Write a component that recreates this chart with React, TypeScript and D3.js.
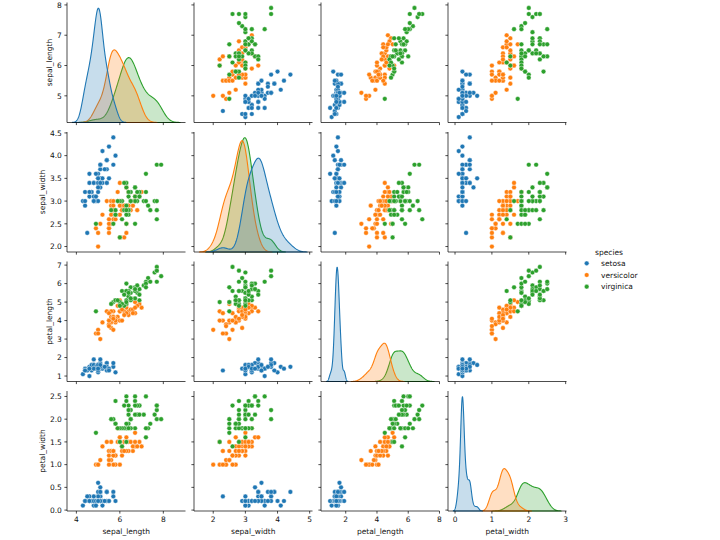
import React, { useEffect, useRef } from 'react';
import * as d3 from 'd3';

// Iris measurements, one array per species and variable
const setosaSepalLength = [5.1, 4.9, 4.7, 4.6, 5.0, 5.4, 4.6, 5.0, 4.4, 4.9, 5.4, 4.8, 4.8, 4.3, 5.8, 5.7, 5.4, 5.1, 5.7, 5.1, 5.4, 5.1, 4.6, 5.1, 4.8, 5.0, 5.0, 5.2, 5.2, 4.7, 4.8, 5.4, 5.2, 5.5, 4.9, 5.0, 5.5, 4.9, 4.4, 5.1, 5.0, 4.5, 4.4, 5.0, 5.1, 4.8, 5.1, 4.6, 5.3, 5.0];
const setosaSepalWidth = [3.5, 3.0, 3.2, 3.1, 3.6, 3.9, 3.4, 3.4, 2.9, 3.1, 3.7, 3.4, 3.0, 3.0, 4.0, 4.4, 3.9, 3.5, 3.8, 3.8, 3.4, 3.7, 3.6, 3.3, 3.4, 3.0, 3.4, 3.5, 3.4, 3.2, 3.1, 3.4, 4.1, 4.2, 3.1, 3.2, 3.5, 3.6, 3.0, 3.4, 3.5, 2.3, 3.2, 3.5, 3.8, 3.0, 3.8, 3.2, 3.7, 3.3];
const setosaPetalLength = [1.4, 1.4, 1.3, 1.5, 1.4, 1.7, 1.4, 1.5, 1.4, 1.5, 1.5, 1.6, 1.4, 1.1, 1.2, 1.5, 1.3, 1.4, 1.7, 1.5, 1.7, 1.5, 1.0, 1.7, 1.9, 1.6, 1.6, 1.5, 1.4, 1.6, 1.6, 1.5, 1.5, 1.4, 1.5, 1.2, 1.3, 1.4, 1.3, 1.5, 1.3, 1.3, 1.3, 1.6, 1.9, 1.4, 1.6, 1.4, 1.5, 1.4];
const setosaPetalWidth = [0.2, 0.2, 0.2, 0.2, 0.2, 0.4, 0.3, 0.2, 0.2, 0.1, 0.2, 0.2, 0.1, 0.1, 0.2, 0.4, 0.4, 0.3, 0.3, 0.3, 0.2, 0.4, 0.2, 0.5, 0.2, 0.2, 0.4, 0.2, 0.2, 0.2, 0.2, 0.4, 0.1, 0.2, 0.2, 0.2, 0.2, 0.1, 0.2, 0.2, 0.3, 0.3, 0.2, 0.6, 0.4, 0.3, 0.2, 0.2, 0.2, 0.2];

const versicolorSepalLength = [7.0, 6.4, 6.9, 5.5, 6.5, 5.7, 6.3, 4.9, 6.6, 5.2, 5.0, 5.9, 6.0, 6.1, 5.6, 6.7, 5.6, 5.8, 6.2, 5.6, 5.9, 6.1, 6.3, 6.1, 6.4, 6.6, 6.8, 6.7, 6.0, 5.7, 5.5, 5.5, 5.8, 6.0, 5.4, 6.0, 6.7, 6.3, 5.6, 5.5, 5.5, 6.1, 5.8, 5.0, 5.6, 5.7, 5.7, 6.2, 5.1, 5.7];
const versicolorSepalWidth = [3.2, 3.2, 3.1, 2.3, 2.8, 2.8, 3.3, 2.4, 2.9, 2.7, 2.0, 3.0, 2.2, 2.9, 2.9, 3.1, 3.0, 2.7, 2.2, 2.5, 3.2, 2.8, 2.5, 2.8, 2.9, 3.0, 2.8, 3.0, 2.9, 2.6, 2.4, 2.4, 2.7, 2.7, 3.0, 3.4, 3.1, 2.3, 3.0, 2.5, 2.6, 3.0, 2.6, 2.3, 2.7, 3.0, 2.9, 2.9, 2.5, 2.8];
const versicolorPetalLength = [4.7, 4.5, 4.9, 4.0, 4.6, 4.5, 4.7, 3.3, 4.6, 3.9, 3.5, 4.2, 4.0, 4.7, 3.6, 4.4, 4.5, 4.1, 4.5, 3.9, 4.8, 4.0, 4.9, 4.7, 4.3, 4.4, 4.8, 5.0, 4.5, 3.5, 3.8, 3.7, 3.9, 5.1, 4.5, 4.5, 4.7, 4.4, 4.1, 4.0, 4.4, 4.6, 4.0, 3.3, 4.2, 4.2, 4.2, 4.3, 3.0, 4.1];
const versicolorPetalWidth = [1.4, 1.5, 1.5, 1.3, 1.5, 1.3, 1.6, 1.0, 1.3, 1.4, 1.0, 1.5, 1.0, 1.4, 1.3, 1.4, 1.5, 1.0, 1.5, 1.1, 1.8, 1.3, 1.5, 1.2, 1.3, 1.4, 1.4, 1.7, 1.5, 1.0, 1.1, 1.0, 1.2, 1.6, 1.5, 1.6, 1.5, 1.3, 1.3, 1.3, 1.2, 1.4, 1.2, 1.0, 1.3, 1.2, 1.3, 1.3, 1.1, 1.3];

const virginicaSepalLength = [6.3, 5.8, 7.1, 6.3, 6.5, 7.6, 4.9, 7.3, 6.7, 7.2, 6.5, 6.4, 6.8, 5.7, 5.8, 6.4, 6.5, 7.7, 7.7, 6.0, 6.9, 5.6, 7.7, 6.3, 6.7, 7.2, 6.2, 6.1, 6.4, 7.2, 7.4, 7.9, 6.4, 6.3, 6.1, 7.7, 6.3, 6.4, 6.0, 6.9, 6.7, 6.9, 5.8, 6.8, 6.7, 6.7, 6.3, 6.5, 6.2, 5.9];
const virginicaSepalWidth = [3.3, 2.7, 3.0, 2.9, 3.0, 3.0, 2.5, 2.9, 2.5, 3.6, 3.2, 2.7, 3.0, 2.5, 2.8, 3.2, 3.0, 3.8, 2.6, 2.2, 3.2, 2.8, 2.8, 2.7, 3.3, 3.2, 2.8, 3.0, 2.8, 3.0, 2.8, 3.8, 2.8, 2.8, 2.6, 3.0, 3.4, 3.1, 3.0, 3.1, 3.1, 3.1, 2.7, 3.2, 3.3, 3.0, 2.5, 3.0, 3.4, 3.0];
const virginicaPetalLength = [6.0, 5.1, 5.9, 5.6, 5.8, 6.6, 4.5, 6.3, 5.8, 6.1, 5.1, 5.3, 5.5, 5.0, 5.1, 5.3, 5.5, 6.7, 6.9, 5.0, 5.7, 4.9, 6.7, 4.9, 5.7, 6.0, 4.8, 4.9, 5.6, 5.8, 6.1, 6.4, 5.6, 5.1, 5.6, 6.1, 5.6, 5.5, 4.8, 5.4, 5.6, 5.1, 5.1, 5.9, 5.7, 5.2, 5.0, 5.2, 5.4, 5.1];
const virginicaPetalWidth = [2.5, 1.9, 2.1, 1.8, 2.2, 2.1, 1.7, 1.8, 1.8, 2.5, 2.0, 1.9, 2.1, 2.0, 2.4, 2.3, 1.8, 2.2, 2.3, 1.5, 2.3, 2.0, 2.0, 1.8, 2.1, 1.8, 1.8, 1.8, 2.1, 1.6, 1.9, 2.0, 2.2, 1.5, 1.4, 2.3, 2.4, 1.8, 1.8, 2.1, 2.4, 2.3, 1.9, 2.3, 2.5, 2.3, 1.9, 2.0, 2.3, 1.8];

const variables = ['sepal_length', 'sepal_width', 'petal_length', 'petal_width'];
const speciesNames = ['setosa', 'versicolor', 'virginica'];
const speciesColors = ['#1f77b4', '#ff7f0e', '#2ca02c'];

// tick values along the bottom (x) and the left (y) of each variable
const xTickValues = [[4, 6, 8], [2, 3, 4, 5], [2, 4, 6, 8], [0, 1, 2, 3]];
const yTickValues = [
  [5, 6, 7, 8],
  [2.0, 2.5, 3.0, 3.5, 4.0, 4.5],
  [1, 2, 3, 4, 5, 6, 7],
  [0.0, 0.5, 1.0, 1.5, 2.0, 2.5],
];
const yTickDecimals = [0, 1, 0, 1];

const dataBySpecies: number[][][] = [
  [setosaSepalLength, setosaSepalWidth, setosaPetalLength, setosaPetalWidth],
  [versicolorSepalLength, versicolorSepalWidth, versicolorPetalLength, versicolorPetalWidth],
  [virginicaSepalLength, virginicaSepalWidth, virginicaPetalLength, virginicaPetalWidth],
];

const FONT = '"DejaVu Sans", sans-serif';
const FS = 7.5;

// gaussian KDE, scott bandwidth, cut=3, 200 grid points
function kdeCurve(values: number[], total: number): [number, number][] {
  const n = values.length;
  const bw = (d3.deviation(values) as number) * Math.pow(n, -0.2);
  const lo = (d3.min(values) as number) - 3 * bw;
  const hi = (d3.max(values) as number) + 3 * bw;
  const norm = 1 / (Math.sqrt(2 * Math.PI) * bw * n);
  return d3.range(200).map((i) => {
    const x = lo + ((hi - lo) * i) / 199;
    const s = d3.sum(values, (v) => Math.exp(-0.5 * ((x - v) / bw) ** 2));
    return [x, s * norm * (n / total)];
  });
}

export default function App() {
  const svgRef = useRef<SVGSVGElement | null>(null);

  useEffect(() => {
    if (!svgRef.current) return;
    const svg = d3.select(svgRef.current);
    svg.selectAll('*').remove();

    const colLeft0 = 67;
    const colStep = 127;
    const cellW = 118.5;
    const rowTop0 = 2.5;
    const rowStep = 129.5;
    const cellH = 120;
    const tickLen = 2.6;
    const tickPad = 2.6;

    const total = d3.sum(dataBySpecies, (s) => s[0].length);
    const curves = variables.map((_, v) => dataBySpecies.map((s) => kdeCurve(s[v], total)));

    // column limits include the density support, plus 5% margins
    const xDomains = variables.map((_, v) => {
      const lo = d3.min(curves[v], (c) => c[0][0]) as number;
      const hi = d3.max(curves[v], (c) => c[c.length - 1][0]) as number;
      const pad = (hi - lo) * 0.05;
      return [lo - pad, hi + pad];
    });
    const yDomains = variables.map((_, v) => {
      const all = dataBySpecies.flatMap((s) => s[v]);
      const lo = d3.min(all) as number;
      const hi = d3.max(all) as number;
      const pad = (hi - lo) * 0.05;
      return [lo - pad, hi + pad];
    });

    const xScales = xDomains.map((d, j) => d3.scaleLinear().domain(d).range([0, cellW]));
    const yScales = yDomains.map((d) => d3.scaleLinear().domain(d).range([cellH, 0]));

    variables.forEach((_, i) => {
      variables.forEach((__, j) => {
        const g = svg
          .append('g')
          .attr('transform', `translate(${colLeft0 + j * colStep},${rowTop0 + i * rowStep})`);
        const x = xScales[j];

        if (i === j) {
          const ymax = d3.max(curves[j], (c) => d3.max(c, (p) => p[1]) as number) as number;
          const yd = d3.scaleLinear().domain([0, ymax * 1.05]).range([cellH, 0]);
          const area = d3
            .area<[number, number]>()
            .x((p) => x(p[0]))
            .y0(cellH)
            .y1((p) => yd(p[1]));
          // later species drawn first, setosa ends on top
          for (let s = speciesNames.length - 1; s >= 0; s--) {
            g.append('path')
              .datum(curves[j][s])
              .attr('d', area)
              .attr('fill', speciesColors[s])
              .attr('fill-opacity', 0.25)
              .attr('stroke', speciesColors[s])
              .attr('stroke-width', 1.1)
              .attr('stroke-linejoin', 'round');
          }
        } else {
          const y = yScales[i];
          dataBySpecies.forEach((s, k) => {
            g.selectAll(null)
              .data(d3.range(s[j].length))
              .enter()
              .append('circle')
              .attr('cx', (idx) => x(s[j][idx]))
              .attr('cy', (idx) => y(s[i][idx]))
              .attr('r', 2.35)
              .attr('fill', speciesColors[k])
              .attr('stroke', '#ffffff')
              .attr('stroke-width', 0.4);
          });
        }

        // spines and ticks
        const y = yScales[i];
        g.append('line')
          .attr('x1', 0).attr('x2', 0).attr('y1', 0).attr('y2', cellH)
          .attr('stroke', '#000').attr('stroke-width', 0.7);
        g.append('line')
          .attr('x1', 0).attr('x2', cellW).attr('y1', cellH).attr('y2', cellH)
          .attr('stroke', '#000').attr('stroke-width', 0.7);

        const xt = xTickValues[j].filter((t) => t >= xDomains[j][0] - 1e-6 && t <= xDomains[j][1] + 1e-3);
        const yt = yTickValues[i].filter((t) => t >= yDomains[i][0] - 1e-6 && t <= yDomains[i][1] + 1e-6);

        g.selectAll(null).data(xt).enter().append('line')
          .attr('x1', (t) => x(t)).attr('x2', (t) => x(t))
          .attr('y1', cellH).attr('y2', cellH + tickLen)
          .attr('stroke', '#000').attr('stroke-width', 0.7);
        g.selectAll(null).data(yt).enter().append('line')
          .attr('x1', 0).attr('x2', -tickLen)
          .attr('y1', (t) => y(t)).attr('y2', (t) => y(t))
          .attr('stroke', '#000').attr('stroke-width', 0.7);

        if (i === variables.length - 1) {
          g.selectAll(null).data(xt).enter().append('text')
            .attr('x', (t) => x(t))
            .attr('y', cellH + tickLen + tickPad + 5.6)
            .attr('text-anchor', 'middle')
            .style('font-family', FONT).style('font-size', `${FS}px`).attr('fill', '#111')
            .text((t) => String(t));
          g.append('text')
            .attr('x', cellW / 2)
            .attr('y', cellH + 22.5)
            .attr('text-anchor', 'middle')
            .style('font-family', FONT).style('font-size', `${FS}px`).attr('fill', '#111')
            .text(variables[j]);
        }

        if (j === 0) {
          const labels = g.selectAll<SVGTextElement, number>(null).data(yt).enter().append('text')
            .attr('x', -tickLen - tickPad)
            .attr('y', (t) => y(t))
            .attr('dy', '0.36em')
            .attr('text-anchor', 'end')
            .style('font-family', FONT).style('font-size', `${FS}px`).attr('fill', '#111')
            .text((t) => t.toFixed(yTickDecimals[i]));
          let widest = 0;
          labels.each(function () {
            widest = Math.max(widest, this.getComputedTextLength());
          });
          const baseX = -tickLen - tickPad - widest - 3 - 1.8;
          g.append('text')
            .attr('transform', `translate(${baseX},${cellH / 2}) rotate(-90)`)
            .attr('text-anchor', 'middle')
            .style('font-family', FONT).style('font-size', `${FS}px`).attr('fill', '#111')
            .text(variables[i]);
        }
      });
    });

    // legend
    const lg = svg.append('g').attr('transform', 'translate(586.7,254.5)');
    lg.append('text')
      .attr('x', 8.3).attr('y', 0)
      .style('font-family', FONT).style('font-size', `${FS}px`).attr('fill', '#111')
      .text('species');
    speciesNames.forEach((name, k) => {
      const yy = 8.8 + k * 11.7;
      lg.append('circle')
        .attr('cx', 0).attr('cy', yy).attr('r', 2.35)
        .attr('fill', speciesColors[k]).attr('stroke', '#fff').attr('stroke-width', 0.4);
      lg.append('text')
        .attr('x', 14.3).attr('y', yy + 2.7)
        .style('font-family', FONT).style('font-size', `${FS}px`).attr('fill', '#111')
        .text(name);
    });
  }, []);

  return (
    <svg
      ref={svgRef}
      width={720}
      height={540}
      style={{ position: 'absolute', left: 0, top: 0, background: '#ffffff' }}
    />
  );
}
